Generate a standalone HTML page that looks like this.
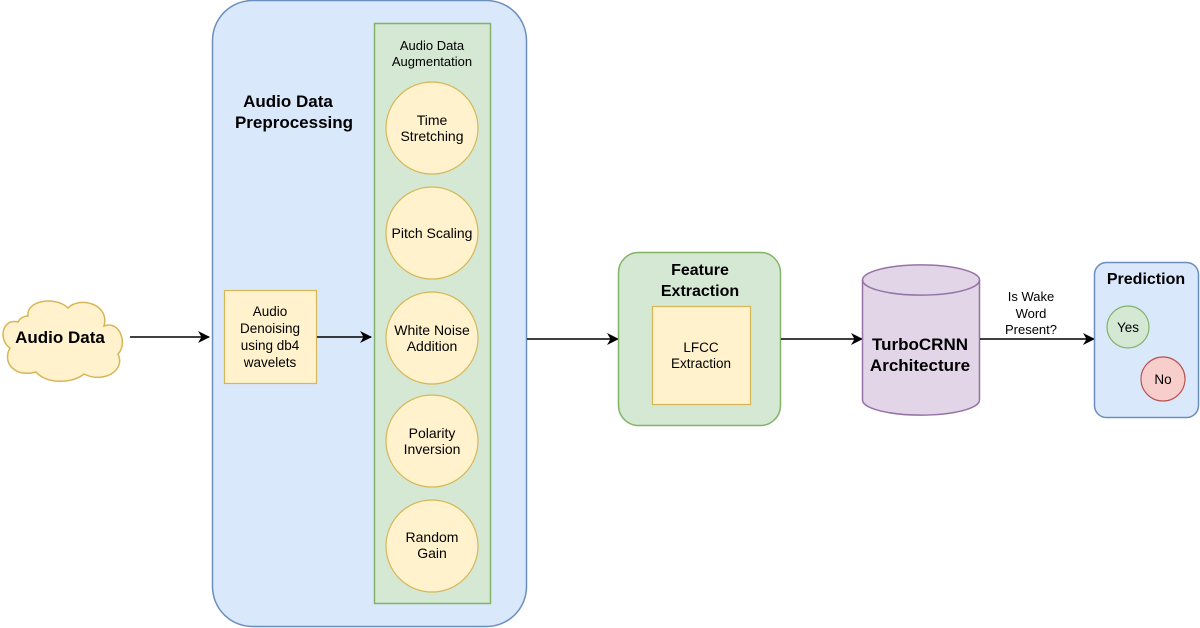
<!DOCTYPE html>
<html><head><meta charset="utf-8"><style>
html,body{margin:0;padding:0;background:#fff;}
svg{display:block;font-family:"Liberation Sans",sans-serif;}
</style></head><body>
<svg width="1200" height="628" viewBox="0 0 1200 628" xmlns="http://www.w3.org/2000/svg">
<defs><marker id="a" markerWidth="12" markerHeight="12" refX="11" refY="6" orient="auto" markerUnits="userSpaceOnUse"><path d="M0,0 L12,6 L0,12 L3.5,6 z" fill="#000"/></marker></defs>
<path d="M18,322 C2,318 -2,340 10,348 C2,362 14,378 36,372 C46,384 72,384 84,374 C104,384 126,370 118,354 C128,344 120,320 104,326 C110,304 80,296 68,308 C56,296 26,300 28,316 C24,316 20,318 18,322 Z" fill="#fff2cc" stroke="#d6b656" stroke-width="1.5"/>
<text x="60" y="343" font-size="17" font-weight="bold" text-anchor="middle">Audio Data</text>
<line x1="130" y1="337" x2="209" y2="337" stroke="#000" stroke-width="1.5" marker-end="url(#a)"/>
<rect x="212.5" y="0.5" width="314" height="626" rx="40" fill="#dae8fc" stroke="#6c8ebf" stroke-width="1.5"/>
<text x="288" y="107" font-size="17" font-weight="bold" text-anchor="middle">Audio Data</text>
<text x="294" y="128" font-size="17" font-weight="bold" text-anchor="middle">Preprocessing</text>
<rect x="224.5" y="290.5" width="92" height="93" fill="#fff2cc" stroke="#d6b656" stroke-width="1.2"/>
<g font-size="13.5" text-anchor="middle"><text x="270" y="316">Audio</text><text x="270" y="333">Denoising</text><text x="270" y="350">using db4</text><text x="270" y="367">wavelets</text></g>
<line x1="317" y1="337" x2="371" y2="337" stroke="#000" stroke-width="1.5" marker-end="url(#a)"/>
<rect x="374.5" y="23.5" width="116" height="580" fill="#d5e8d4" stroke="#82b366" stroke-width="1.5"/>
<g font-size="13" text-anchor="middle"><text x="432" y="50">Audio Data</text><text x="432" y="66">Augmentation</text></g>
<g fill="#fff2cc" stroke="#d6b656" stroke-width="1.2">
<circle cx="432" cy="128" r="46"/><circle cx="432" cy="233" r="46"/><circle cx="432" cy="338" r="46"/><circle cx="432" cy="441" r="46"/><circle cx="432" cy="546" r="46"/></g>
<g font-size="14" text-anchor="middle">
<text x="432" y="125">Time</text><text x="432" y="141">Stretching</text>
<text x="432" y="238">Pitch Scaling</text>
<text x="432" y="335">White Noise</text><text x="432" y="351">Addition</text>
<text x="432" y="438">Polarity</text><text x="432" y="454">Inversion</text>
<text x="432" y="542">Random</text><text x="432" y="558">Gain</text></g>
<line x1="527" y1="339" x2="618" y2="339" stroke="#000" stroke-width="1.5" marker-end="url(#a)"/>
<rect x="618.5" y="252.5" width="162" height="173" rx="20" fill="#d5e8d4" stroke="#82b366" stroke-width="1.5"/>
<g font-size="16" font-weight="bold" text-anchor="middle"><text x="700" y="275">Feature</text><text x="700" y="296">Extraction</text></g>
<rect x="652.5" y="306.5" width="98" height="98" fill="#fff2cc" stroke="#d6b656" stroke-width="1.2"/>
<g font-size="13.5" text-anchor="middle"><text x="701" y="352">LFCC</text><text x="701" y="368">Extraction</text></g>
<line x1="781" y1="339" x2="862" y2="339" stroke="#000" stroke-width="1.5" marker-end="url(#a)"/>
<path d="M862.5,280 A58,15 0 0 1 979.5,280 L979.5,400 A58,15 0 0 1 862.5,400 Z" fill="#e1d5e7" stroke="#9673a6" stroke-width="1.5"/>
<path d="M862.5,280 A58,15 0 0 0 979.5,280" fill="none" stroke="#9673a6" stroke-width="1.5"/>
<g font-size="17" font-weight="bold" text-anchor="middle"><text x="920" y="350">TurboCRNN</text><text x="920" y="371">Architecture</text></g>
<line x1="980" y1="339" x2="1094" y2="339" stroke="#000" stroke-width="1.5" marker-end="url(#a)"/>
<g font-size="13" text-anchor="middle"><text x="1031" y="301">Is Wake</text><text x="1031" y="318">Word</text><text x="1031" y="334">Present?</text></g>
<rect x="1094.5" y="262.5" width="104" height="155" rx="12" fill="#dae8fc" stroke="#6c8ebf" stroke-width="1.5"/>
<text x="1146" y="284" font-size="16" font-weight="bold" text-anchor="middle">Prediction</text>
<circle cx="1128" cy="327" r="21" fill="#d5e8d4" stroke="#82b366" stroke-width="1.2"/>
<text x="1128" y="332" font-size="13.5" text-anchor="middle">Yes</text>
<circle cx="1163" cy="379" r="22" fill="#f8cecc" stroke="#b85450" stroke-width="1.2"/>
<text x="1163" y="384" font-size="13.5" text-anchor="middle">No</text>
</svg>
</body></html>
